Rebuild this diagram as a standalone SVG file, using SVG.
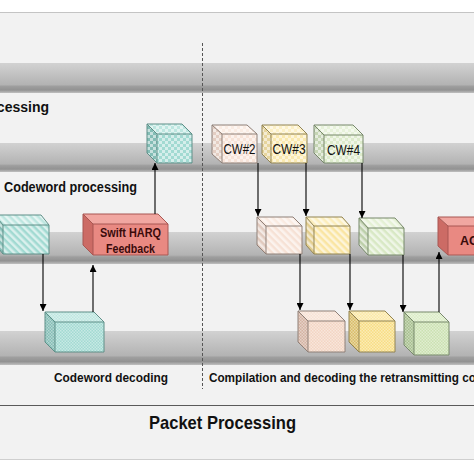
<svg xmlns="http://www.w3.org/2000/svg" width="474" height="474" viewBox="0 0 474 474">
<defs>
<linearGradient id="band" x1="0" y1="0" x2="0" y2="1">
<stop offset="0" stop-color="#d2d2d2"/>
<stop offset="0.72" stop-color="#b3b3b3"/>
<stop offset="0.78" stop-color="#9e9e9e"/>
<stop offset="0.9" stop-color="#929292"/>
<stop offset="1" stop-color="#c0c0c0"/>
</linearGradient>
<pattern id="check" patternUnits="userSpaceOnUse" width="6" height="6">
<rect x="0" y="0" width="3" height="3" fill="#fff" fill-opacity="0.55"/>
<rect x="3" y="3" width="3" height="3" fill="#fff" fill-opacity="0.55"/>
</pattern>
<pattern id="hatch" patternUnits="userSpaceOnUse" width="5" height="5" patternTransform="rotate(-45)">
<rect x="0" y="0" width="2.5" height="5" fill="#fff" fill-opacity="0.6"/>
</pattern>
<pattern id="fine" patternUnits="userSpaceOnUse" width="3" height="3">
<rect x="0" y="0" width="1.5" height="1.5" fill="#fff" fill-opacity="0.4"/>
<rect x="1.5" y="1.5" width="1.5" height="1.5" fill="#fff" fill-opacity="0.4"/>
</pattern>
<marker id="ah" viewBox="0 0 10 10" refX="10" refY="5" markerWidth="7" markerHeight="7" markerUnits="userSpaceOnUse" orient="auto">
<path d="M0,0 L10,5 L0,10 Z" fill="#000"/>
</marker>
</defs>
<style>
.lbl{font-family:"Liberation Sans",Arial,sans-serif;font-weight:bold;fill:#111}
.cw{font-family:"Liberation Sans",Arial,sans-serif;font-size:14px;fill:#111;text-anchor:middle}
.edge{fill:none;stroke-width:1;stroke-linejoin:round}
.pale{fill:#fff;fill-opacity:0.35}
.teal .fr{fill:#a2dad2}.teal .tp{fill:#bde6e0}.teal .sd{fill:#83bdb5}.teal .edge{stroke:#5f8f88}
.peach .fr{fill:#f3d5c3}.peach .tp{fill:#f8e2d5}.peach .sd{fill:#d4b3a2}.peach .edge{stroke:#8f8078}
.yellow .fr{fill:#f8dd84}.yellow .tp{fill:#fbe8a6}.yellow .sd{fill:#d9bd68}.yellow .edge{stroke:#928452}
.green .fr{fill:#cbe1b1}.green .tp{fill:#dbecc6}.green .sd{fill:#a6bf8d}.green .edge{stroke:#77886a}
.red .fr{fill:#e98982}.red .tp{fill:#f1a7a1}.red .sd{fill:#cc6b65}.red .edge{stroke:#a85752}
.conn line{stroke:#000;stroke-width:1.1;marker-end:url(#ah)}
</style>
<rect x="0" y="0" width="474" height="474" fill="#fff"/>
<rect x="0" y="12" width="474" height="448" fill="#f2f2f2"/>
<line x1="0" y1="12.5" x2="474" y2="12.5" stroke="#c4c4c4"/>
<line x1="0" y1="459.5" x2="474" y2="459.5" stroke="#cfcfcf"/>
<line x1="0" y1="405.5" x2="474" y2="405.5" stroke="#5a5a5a"/>
<g id="bands">
<rect x="0" y="63" width="474" height="30" fill="url(#band)"/>
<rect x="0" y="143" width="474" height="29" fill="url(#band)"/>
<rect x="0" y="232" width="474" height="32" fill="url(#band)"/>
<rect x="0" y="331" width="474" height="34" fill="url(#band)"/>
</g>
<line id="divider" x1="202.5" y1="43" x2="202.5" y2="389" stroke="#555" stroke-width="1" stroke-dasharray="3,2"/>
<g id="labels">
<text class="lbl" x="49" y="111.5" font-size="14" text-anchor="end">Processing</text>
<text class="lbl" x="4" y="192" font-size="14" textLength="133" lengthAdjust="spacingAndGlyphs">Codeword processing</text>
<text class="lbl" x="54" y="382" font-size="13" textLength="114" lengthAdjust="spacingAndGlyphs">Codeword decoding</text>
<text class="lbl" x="209" y="382" font-size="13" textLength="315" lengthAdjust="spacingAndGlyphs">Compilation and decoding the retransmitting codewords</text>
<text class="lbl" x="149" y="429" font-size="18.5" textLength="147" lengthAdjust="spacingAndGlyphs">Packet Processing</text>
</g>
<g id="cube-top-teal" class="teal">
<path class="fr" d="M157,134H192V163H157Z"/><path class="tp" d="M147,124L182,124L192,134L157,134Z"/><path class="sd" d="M147,124L157,134L157,163L147,153Z"/>
<path fill="url(#check)" d="M147,124L182,124L192,134L192,163L157,163L147,153Z"/>
<path class="edge" d="M147,124L182,124L192,134L192,163L157,163L147,153Z M147,124L157,134L192,134 M157,134L157,163"/>
</g>
<g id="cw2" class="peach">
<path class="fr" d="M222,134H257V163H222Z"/><path class="tp" d="M212,125L247,125L257,134L222,134Z"/><path class="sd" d="M212,125L222,134L222,163L212,154Z"/>
<path fill="url(#check)" d="M212,125L247,125L257,134L257,163L222,163L212,154Z"/>
<path class="pale" d="M212,125L247,125L257,134L257,163L222,163L212,154Z"/>
<path class="edge" d="M212,125L247,125L257,134L257,163L222,163L212,154Z M212,125L222,134L257,134 M222,134L222,163"/>
<text class="cw" x="239.5" y="153.5" textLength="32" lengthAdjust="spacingAndGlyphs">CW#2</text>
</g>
<g id="cw3" class="yellow">
<path class="fr" d="M271,134H307V163H271Z"/><path class="tp" d="M262,125L298,125L307,134L271,134Z"/><path class="sd" d="M262,125L271,134L271,163L262,154Z"/>
<path fill="url(#check)" d="M262,125L298,125L307,134L307,163L271,163L262,154Z"/>
<path class="pale" d="M262,125L298,125L307,134L307,163L271,163L262,154Z"/>
<path class="edge" d="M262,125L298,125L307,134L307,163L271,163L262,154Z M262,125L271,134L307,134 M271,134L271,163"/>
<text class="cw" x="289" y="153.5" textLength="33" lengthAdjust="spacingAndGlyphs">CW#3</text>
</g>
<g id="cw4" class="green">
<path class="fr" d="M324,135H363V163H324Z"/><path class="tp" d="M314,125L353,125L363,135L324,135Z"/><path class="sd" d="M314,125L324,135L324,163L314,153Z"/>
<path fill="url(#check)" d="M314,125L353,125L363,135L363,163L324,163L314,153Z"/>
<path class="pale" d="M314,125L353,125L363,135L363,163L324,163L314,153Z"/>
<path class="edge" d="M314,125L353,125L363,135L363,163L324,163L314,153Z M314,125L324,135L363,135 M324,135L324,163"/>
<text class="cw" x="343.5" y="154.5" textLength="33" lengthAdjust="spacingAndGlyphs">CW#4</text>
</g>
<g id="cube-left-teal" class="teal">
<path class="fr" d="M3,225H49V254H3Z"/><path class="tp" d="M-5,215L41,215L49,225L3,225Z"/><path class="sd" d="M-5,215L3,225L3,254L-5,244Z"/>
<path fill="url(#hatch)" d="M-5,215L41,215L49,225L49,254L3,254L-5,244Z"/>
<path class="edge" d="M-5,215L41,215L49,225L49,254L3,254L-5,244Z M-5,215L3,225L49,225 M3,225L3,254"/>
</g>
<g id="harq" class="red">
<path class="fr" d="M93,224H168V255H93Z"/><path class="tp" d="M83,214L158,214L168,224L93,224Z"/><path class="sd" d="M83,214L93,224L93,255L83,245Z"/>
<path class="edge" d="M83,214L158,214L168,224L168,255L93,255L83,245Z M83,214L93,224L168,224 M93,224L93,255"/>
<text class="lbl" x="130.5" y="237" font-size="12" text-anchor="middle" style="fill:#3a0b0b" textLength="61" lengthAdjust="spacingAndGlyphs">Swift  HARQ</text>
<text class="lbl" x="130.5" y="252.5" font-size="12" text-anchor="middle" style="fill:#3a0b0b" textLength="49" lengthAdjust="spacingAndGlyphs">Feedback</text>
</g>
<g id="mid-a" class="peach">
<path class="fr" d="M266,226H302V254H266Z"/><path class="tp" d="M257,217L293,217L302,226L266,226Z"/><path class="sd" d="M257,217L266,226L266,254L257,245Z"/>
<path fill="url(#hatch)" d="M257,217L293,217L302,226L302,254L266,254L257,245Z"/>
<path fill="#fff" fill-opacity="0.3" d="M257,217L293,217L302,226L302,254L266,254L257,245Z"/>
<path class="edge" d="M257,217L293,217L302,226L302,254L266,254L257,245Z M257,217L266,226L302,226 M266,226L266,254"/>
</g>
<g id="mid-b" class="yellow">
<path class="fr" d="M314,226H350V254H314Z"/><path class="tp" d="M306,217L342,217L350,226L314,226Z"/><path class="sd" d="M306,217L314,226L314,254L306,245Z"/>
<path fill="url(#hatch)" d="M306,217L342,217L350,226L350,254L314,254L306,245Z"/>
<path fill="#fff" fill-opacity="0.25" d="M306,217L342,217L350,226L350,254L314,254L306,245Z"/>
<path class="edge" d="M306,217L342,217L350,226L350,254L314,254L306,245Z M306,217L314,226L350,226 M314,226L314,254"/>
</g>
<g id="mid-c" class="green">
<path class="fr" d="M368,228H404V255H368Z"/><path class="tp" d="M359,218L395,218L404,228L368,228Z"/><path class="sd" d="M359,218L368,228L368,255L359,245Z"/>
<path fill="url(#hatch)" d="M359,218L395,218L404,228L404,255L368,255L359,245Z"/>
<path fill="#fff" fill-opacity="0.25" d="M359,218L395,218L404,228L404,255L368,255L359,245Z"/>
<path class="edge" d="M359,218L395,218L404,228L404,255L368,255L359,245Z M359,218L368,228L404,228 M368,228L368,255"/>
</g>
<g id="ack" class="red">
<path class="fr" d="M448,226H484V255H448Z"/><path class="tp" d="M438,217L474,217L484,226L448,226Z"/><path class="sd" d="M438,217L448,226L448,255L438,246Z"/>
<path class="edge" d="M438,217L474,217L484,226L484,255L448,255L438,246Z M438,217L448,226L484,226 M448,226L448,255"/>
<text class="lbl" x="460" y="245" font-size="12.5" style="fill:#3a0b0b">ACK</text>
</g>
<g id="cube-bottom-teal" class="teal">
<path class="fr" d="M55,322H104V352H55Z"/><path class="tp" d="M45,312L94,312L104,322L55,322Z"/><path class="sd" d="M45,312L55,322L55,352L45,342Z"/>
<path fill="url(#fine)" d="M45,312L94,312L104,322L104,352L55,352L45,342Z"/>
<path class="edge" d="M45,312L94,312L104,322L104,352L55,352L45,342Z M45,312L55,322L104,322 M55,322L55,352"/>
</g>
<g id="bot-d" class="peach">
<path class="fr" d="M308,321H345V352H308Z"/><path class="tp" d="M298,311L335,311L345,321L308,321Z"/><path class="sd" d="M298,311L308,321L308,352L298,342Z"/>
<path fill="url(#fine)" d="M298,311L335,311L345,321L345,352L308,352L298,342Z"/>
<path class="edge" d="M298,311L335,311L345,321L345,352L308,352L298,342Z M298,311L308,321L345,321 M308,321L308,352"/>
</g>
<g id="bot-e" class="yellow">
<path class="fr" d="M359,321H395V352H359Z"/><path class="tp" d="M349,311L385,311L395,321L359,321Z"/><path class="sd" d="M349,311L359,321L359,352L349,342Z"/>
<path fill="url(#fine)" d="M349,311L385,311L395,321L395,352L359,352L349,342Z"/>
<path class="edge" d="M349,311L385,311L395,321L395,352L359,352L349,342Z M349,311L359,321L395,321 M359,321L359,352"/>
</g>
<g id="bot-f" class="green">
<path class="fr" d="M414,322H449V355H414Z"/><path class="tp" d="M404,312L439,312L449,322L414,322Z"/><path class="sd" d="M404,312L414,322L414,355L404,345Z"/>
<path fill="url(#fine)" d="M404,312L439,312L449,322L449,355L414,355L404,345Z"/>
<path class="edge" d="M404,312L439,312L449,322L449,355L414,355L404,345Z M404,312L414,322L449,322 M414,322L414,355"/>
</g>
<g id="connectors" class="conn">
<line x1="155" y1="214" x2="155" y2="163"/>
<line x1="43" y1="254" x2="43" y2="311"/>
<line x1="93" y1="312" x2="93" y2="265"/>
<line x1="258" y1="163" x2="258" y2="216"/>
<line x1="306" y1="163" x2="306" y2="216"/>
<line x1="362" y1="163" x2="362" y2="218"/>
<line x1="300" y1="254" x2="300" y2="310"/>
<line x1="350" y1="254" x2="350" y2="310"/>
<line x1="403" y1="255" x2="403" y2="312"/>
<line x1="439" y1="312" x2="439" y2="252"/>
</g>
</svg>
